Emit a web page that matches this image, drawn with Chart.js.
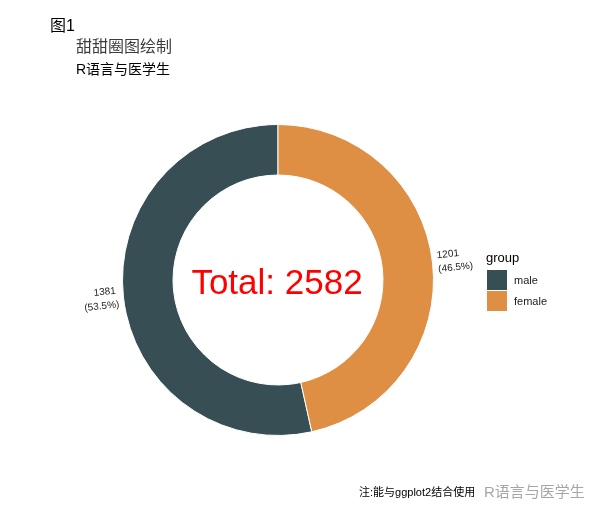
<!DOCTYPE html>
<html>
<head>
<meta charset="utf-8">
<script src="https://cdn.jsdelivr.net/npm/chart.js@4"></script>
<style>
  html, body { margin: 0; padding: 0; background: #fff; }
  #wrap { width: 600px; height: 518px; }
</style>
</head>
<body>
<div id="wrap"><canvas id="donut" width="600" height="518"></canvas></div>
<script>
const groups = ['male', 'female'];
const counts = [1381, 1201];
const groupColors = ['#374E55', '#DF8F44'];

const FONT = "'Liberation Sans', Arial, 'Noto Sans CJK SC', sans-serif";
const total = counts.reduce((a, b) => a + b, 0);
const pct = counts.map(c => (c / total * 100).toFixed(1));
// first slice ends at 12 o'clock, second starts there (as in the ggplot version)
const startRot = -counts[0] / total * 360;

const textPlugin = {
  id: 'texts',
  afterDraw(chart) {
    const ctx = chart.ctx;
    const meta = chart.getDatasetMeta(0);
    ctx.save();

    // slice labels outside the ring
    meta.data.forEach((arc, i) => {
      const { x, y, startAngle, endAngle, outerRadius } = arc.getProps(['x', 'y', 'startAngle', 'endAngle', 'outerRadius'], true);
      const mid = (startAngle + endAngle) / 2;
      const r = outerRadius + 5;
      const px = x + Math.cos(mid) * r;
      const py = y + Math.sin(mid) * r;
      const right = Math.cos(mid) >= 0;
      let rot = mid;
      if (!right) rot += Math.PI;
      ctx.save();
      ctx.translate(px, py);
      ctx.rotate(rot);
      ctx.fillStyle = '#1a1a1a';
      ctx.font = '10px ' + FONT;
      ctx.textAlign = right ? 'left' : 'right';
      ctx.textBaseline = 'middle';
      ctx.fillText(String(counts[i]), right ? 0 : -2, -7);
      ctx.fillText('(' + pct[i] + '%)', 0, 7);
      ctx.restore();
    });

    // centre total
    const c = meta.data[0];
    ctx.fillStyle = '#ff0000';
    ctx.font = '35px ' + FONT;
    ctx.textAlign = 'center';
    ctx.textBaseline = 'alphabetic';
    ctx.fillText('Total: ' + total, c.x - 1, c.y + 14);

    // titles
    ctx.textAlign = 'left';
    ctx.textBaseline = 'middle';
    ctx.fillStyle = '#000';
    ctx.font = '16px ' + FONT;
    ctx.fillText('图1', 50, 27);
    ctx.fillStyle = '#3c3c3c';
    ctx.font = '16px ' + FONT;
    ctx.fillText('甜甜圈图绘制', 76, 48);
    ctx.fillStyle = '#000';
    ctx.font = '14px ' + FONT;
    ctx.fillText('R语言与医学生', 76, 70);

    // legend
    ctx.fillStyle = '#000';
    ctx.font = '13px ' + FONT;
    ctx.fillText('group', 486, 258);
    groups.forEach((g, i) => {
      const ky = 270 + i * 21;
      ctx.fillStyle = groupColors[i];
      ctx.fillRect(487, ky, 20, 20);
      ctx.fillStyle = '#1a1a1a';
      ctx.font = '11px ' + FONT;
      ctx.fillText(g, 514, ky + 11);
    });

    // caption + watermark
    ctx.fillStyle = '#000';
    ctx.font = '11px ' + FONT;
    ctx.fillText('注:能与ggplot2结合使用', 359, 493);
    ctx.fillStyle = 'rgba(150,150,150,0.85)';
    ctx.font = '15px ' + FONT;
    ctx.fillText('R语言与医学生', 484, 493);

    ctx.restore();
  }
};

new Chart(document.getElementById('donut'), {
  type: 'doughnut',
  data: {
    labels: groups,
    datasets: [{
      data: counts,
      backgroundColor: groupColors,
      borderColor: '#ffffff',
      borderWidth: 1,
      hoverOffset: 0,
    }],
  },
  options: {
    responsive: false,
    animation: false,
    cutout: '67.5%',
    rotation: startRot,
    layout: { padding: { left: 122, top: 124, right: 166, bottom: 82 } },
    plugins: {
      legend: { display: false },
      tooltip: { enabled: false },
    },
  },
  plugins: [textPlugin],
});
</script>
</body>
</html>
